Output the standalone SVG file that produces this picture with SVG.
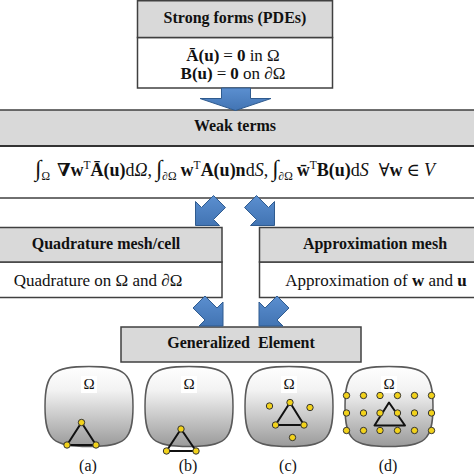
<svg xmlns="http://www.w3.org/2000/svg" width="474" height="474" viewBox="0 0 474 474">
<style>
.hdr{fill:#d9d9d9;stroke:#404040;stroke-width:1.5}
.body{fill:#ffffff;stroke:#404040;stroke-width:1.5}
text{font-family:'Liberation Serif','DejaVu Serif',serif;fill:#111;text-anchor:middle}
.ht{font-weight:bold;font-size:16px}
.bt{font-size:17px}
.fm{font-size:18px}
.b{font-weight:bold}
.i{font-style:italic}
.arrow{fill:url(#ag);stroke:#2f5b8f;stroke-width:1}
.blob{fill:url(#bg);stroke:#5a5a5a;stroke-width:1.5}
.tri{fill:none;stroke:#111;stroke-width:2;stroke-linejoin:round}
.dot{fill:#f2d21b;stroke:#333;stroke-width:1}
.om{font-size:15px}
.lab{font-size:16px}
</style>
<defs>
<linearGradient id="ag" x1="0" y1="0" x2="0" y2="1">
<stop offset="0" stop-color="#5b8fd0"/>
<stop offset="1" stop-color="#4274b3"/>
</linearGradient>
<linearGradient id="bg" x1="0" y1="0" x2="0" y2="1">
<stop offset="0" stop-color="#ffffff"/>
<stop offset="0.3" stop-color="#f2f2f2"/>
<stop offset="1" stop-color="#9a9a9a"/>
</linearGradient>
<path id="blob" d="M44,0 C80,0 88,6 88,40 C88,74 80,80 44,80 C8,80 0,74 0,40 C0,6 8,0 44,0 Z"/>
</defs>

<g id="strong-forms">
<rect class="body" x="137.5" y="37.5" width="195" height="50.5"/>
<rect class="hdr" x="137.5" y="0.75" width="195" height="36.75"/>
<text class="ht" x="235" y="23">Strong forms (PDEs)</text>
<text class="bt" x="233" y="60.5"><tspan class="b">Ā(u)</tspan><tspan dx="4">=</tspan><tspan class="b" dx="4">0</tspan> in Ω</text>
<text class="bt" x="233" y="79"><tspan class="b">B(u)</tspan><tspan dx="4">=</tspan><tspan class="b" dx="4">0</tspan> on ∂Ω</text>
</g>

<g id="weak-terms">
<rect class="body" x="-2" y="146" width="478" height="52"/>
<rect class="hdr" x="-2" y="110" width="478" height="36"/>
<line x1="-2" y1="146" x2="476" y2="146" stroke="#333" stroke-width="2"/>
<text class="ht" x="235" y="130.5">Weak terms</text>
<text class="fm" x="235" y="176"><tspan font-size="23">∫</tspan><tspan font-size="11.5" dy="4">Ω</tspan><tspan class="b" dx="7" dy="-4">∇w</tspan><tspan font-size="11.5" dy="-7">T</tspan><tspan class="b" dy="7">Ā(u)</tspan><tspan>d</tspan><tspan class="i">Ω</tspan><tspan>,</tspan><tspan font-size="23" dx="4">∫</tspan><tspan font-size="11.5" dy="4">∂Ω</tspan><tspan class="b" dx="4" dy="-4">w</tspan><tspan font-size="11.5" dy="-7">T</tspan><tspan class="b" dy="7">A(u)n</tspan><tspan>d</tspan><tspan class="i">S</tspan><tspan>,</tspan><tspan font-size="23" dx="4">∫</tspan><tspan font-size="11.5" dy="4">∂Ω</tspan><tspan class="b" dx="4" dy="-4">w̄</tspan><tspan font-size="11.5" dy="-7">T</tspan><tspan class="b" dy="7">B(u)</tspan><tspan>d</tspan><tspan class="i">S</tspan><tspan dx="10">∀</tspan><tspan class="b">w</tspan><tspan dx="4">∈</tspan><tspan class="i" dx="4">V</tspan></text>
</g>

<g id="quadrature">
<rect class="body" x="-2" y="262" width="224" height="35.5"/>
<rect class="hdr" x="-2" y="227.5" width="224" height="34.5"/>
<text class="ht" x="106" y="248.5">Quadrature mesh/cell</text>
<text class="bt" x="98" y="286" font-size="17.5">Quadrature on Ω and ∂Ω</text>
</g>

<g id="approximation">
<rect class="body" x="259.5" y="262" width="217" height="35.5"/>
<rect class="hdr" x="259.5" y="227.5" width="217" height="34.5"/>
<text class="ht" x="375" y="248.5">Approximation mesh</text>
<text class="bt" x="376" y="286">Approximation of <tspan class="b">w</tspan> and <tspan class="b">u</tspan></text>
</g>

<g id="generalized-element">
<rect class="hdr" x="121" y="327" width="240" height="35"/>
<text class="ht" x="241" y="347.5" word-spacing="4">Generalized Element</text>
</g>

<g id="connectors">
<polygon class="arrow" points="221.5,88 250.5,88 250.5,98.5 271,98.5 235.5,110.5 200,98.5 221.5,98.5"/>
<polygon class="arrow" points="195.5,225.5 219.5,225.5 213.5,219.5 225.5,207.5 213.5,195.5 201.5,207.5 195.5,201.5"/>
<polygon class="arrow" points="274.5,225.5 250.5,225.5 256.5,219.5 244.5,207.5 256.5,195.5 268.5,207.5 274.5,201.5"/>
<polygon class="arrow" points="223,326 223,302 217,308 205,296 193,308 205,320 199,326"/>
<polygon class="arrow" points="259,326 259,302 265,308 277,296 289,308 277,320 283,326"/>
</g>

<g id="element-a">
<use href="#blob" class="blob" x="45" y="366.5"/>
<rect x="81" y="376" width="16" height="17" fill="#fff"/>
<text class="om" x="89" y="388.5">Ω</text>
<polygon class="tri" points="81.5,422.5 67,445 96,445"/>
<circle class="dot" cx="81.5" cy="422.5" r="3.2"/>
<circle class="dot" cx="67" cy="445" r="3.2"/>
<circle class="dot" cx="96" cy="445" r="3.2"/>
<text class="lab" x="88" y="471">(a)</text>
</g>

<g id="element-b">
<use href="#blob" class="blob" x="145" y="366.5"/>
<rect x="181" y="376" width="16" height="17" fill="#fff"/>
<text class="om" x="189" y="388.5">Ω</text>
<polygon class="tri" points="181,429 166.5,451 196,451"/>
<circle class="dot" cx="181" cy="429" r="3.2"/>
<circle class="dot" cx="166.5" cy="451" r="3.2"/>
<circle class="dot" cx="196" cy="451" r="3.2"/>
<text class="lab" x="188" y="471">(b)</text>
</g>

<g id="element-c">
<use href="#blob" class="blob" x="245" y="366.5"/>
<rect x="281" y="376" width="16" height="17" fill="#fff"/>
<text class="om" x="289" y="388.5">Ω</text>
<polygon class="tri" points="290,402.5 275.5,425 304,425"/>
<circle class="dot" cx="290" cy="402.5" r="3.2"/>
<circle class="dot" cx="275.5" cy="425" r="3.2"/>
<circle class="dot" cx="304" cy="425" r="3.2"/>
<circle class="dot" cx="269.5" cy="406" r="3.2"/>
<circle class="dot" cx="310" cy="407.5" r="3.2"/>
<circle class="dot" cx="292.5" cy="437.5" r="3.2"/>
<text class="lab" x="288" y="471">(c)</text>
</g>

<g id="element-d">
<use href="#blob" class="blob" x="345" y="366.5"/>
<rect x="381" y="376" width="16" height="17" fill="#fff"/>
<text class="om" x="389" y="388.5">Ω</text>
<polygon class="tri" points="389,402.5 374.5,425.5 405,425.5"/>
<g>
<circle class="dot" cx="346.5" cy="395.5" r="3.2"/><circle class="dot" cx="363.5" cy="395.5" r="3.2"/><circle class="dot" cx="380" cy="395.5" r="3.2"/><circle class="dot" cx="397.5" cy="395.5" r="3.2"/><circle class="dot" cx="414.5" cy="395.5" r="3.2"/><circle class="dot" cx="431.5" cy="395.5" r="3.2"/>
<circle class="dot" cx="346.5" cy="413" r="3.2"/><circle class="dot" cx="363.5" cy="413" r="3.2"/><circle class="dot" cx="380" cy="413" r="3.2"/><circle class="dot" cx="397.5" cy="413" r="3.2"/><circle class="dot" cx="414.5" cy="413" r="3.2"/><circle class="dot" cx="431.5" cy="413" r="3.2"/>
<circle class="dot" cx="346.5" cy="430.5" r="3.2"/><circle class="dot" cx="363.5" cy="430.5" r="3.2"/><circle class="dot" cx="380" cy="430.5" r="3.2"/><circle class="dot" cx="397.5" cy="430.5" r="3.2"/><circle class="dot" cx="414.5" cy="430.5" r="3.2"/><circle class="dot" cx="431.5" cy="430.5" r="3.2"/>
</g>
<text class="lab" x="388" y="471">(d)</text>
</g>
</svg>
